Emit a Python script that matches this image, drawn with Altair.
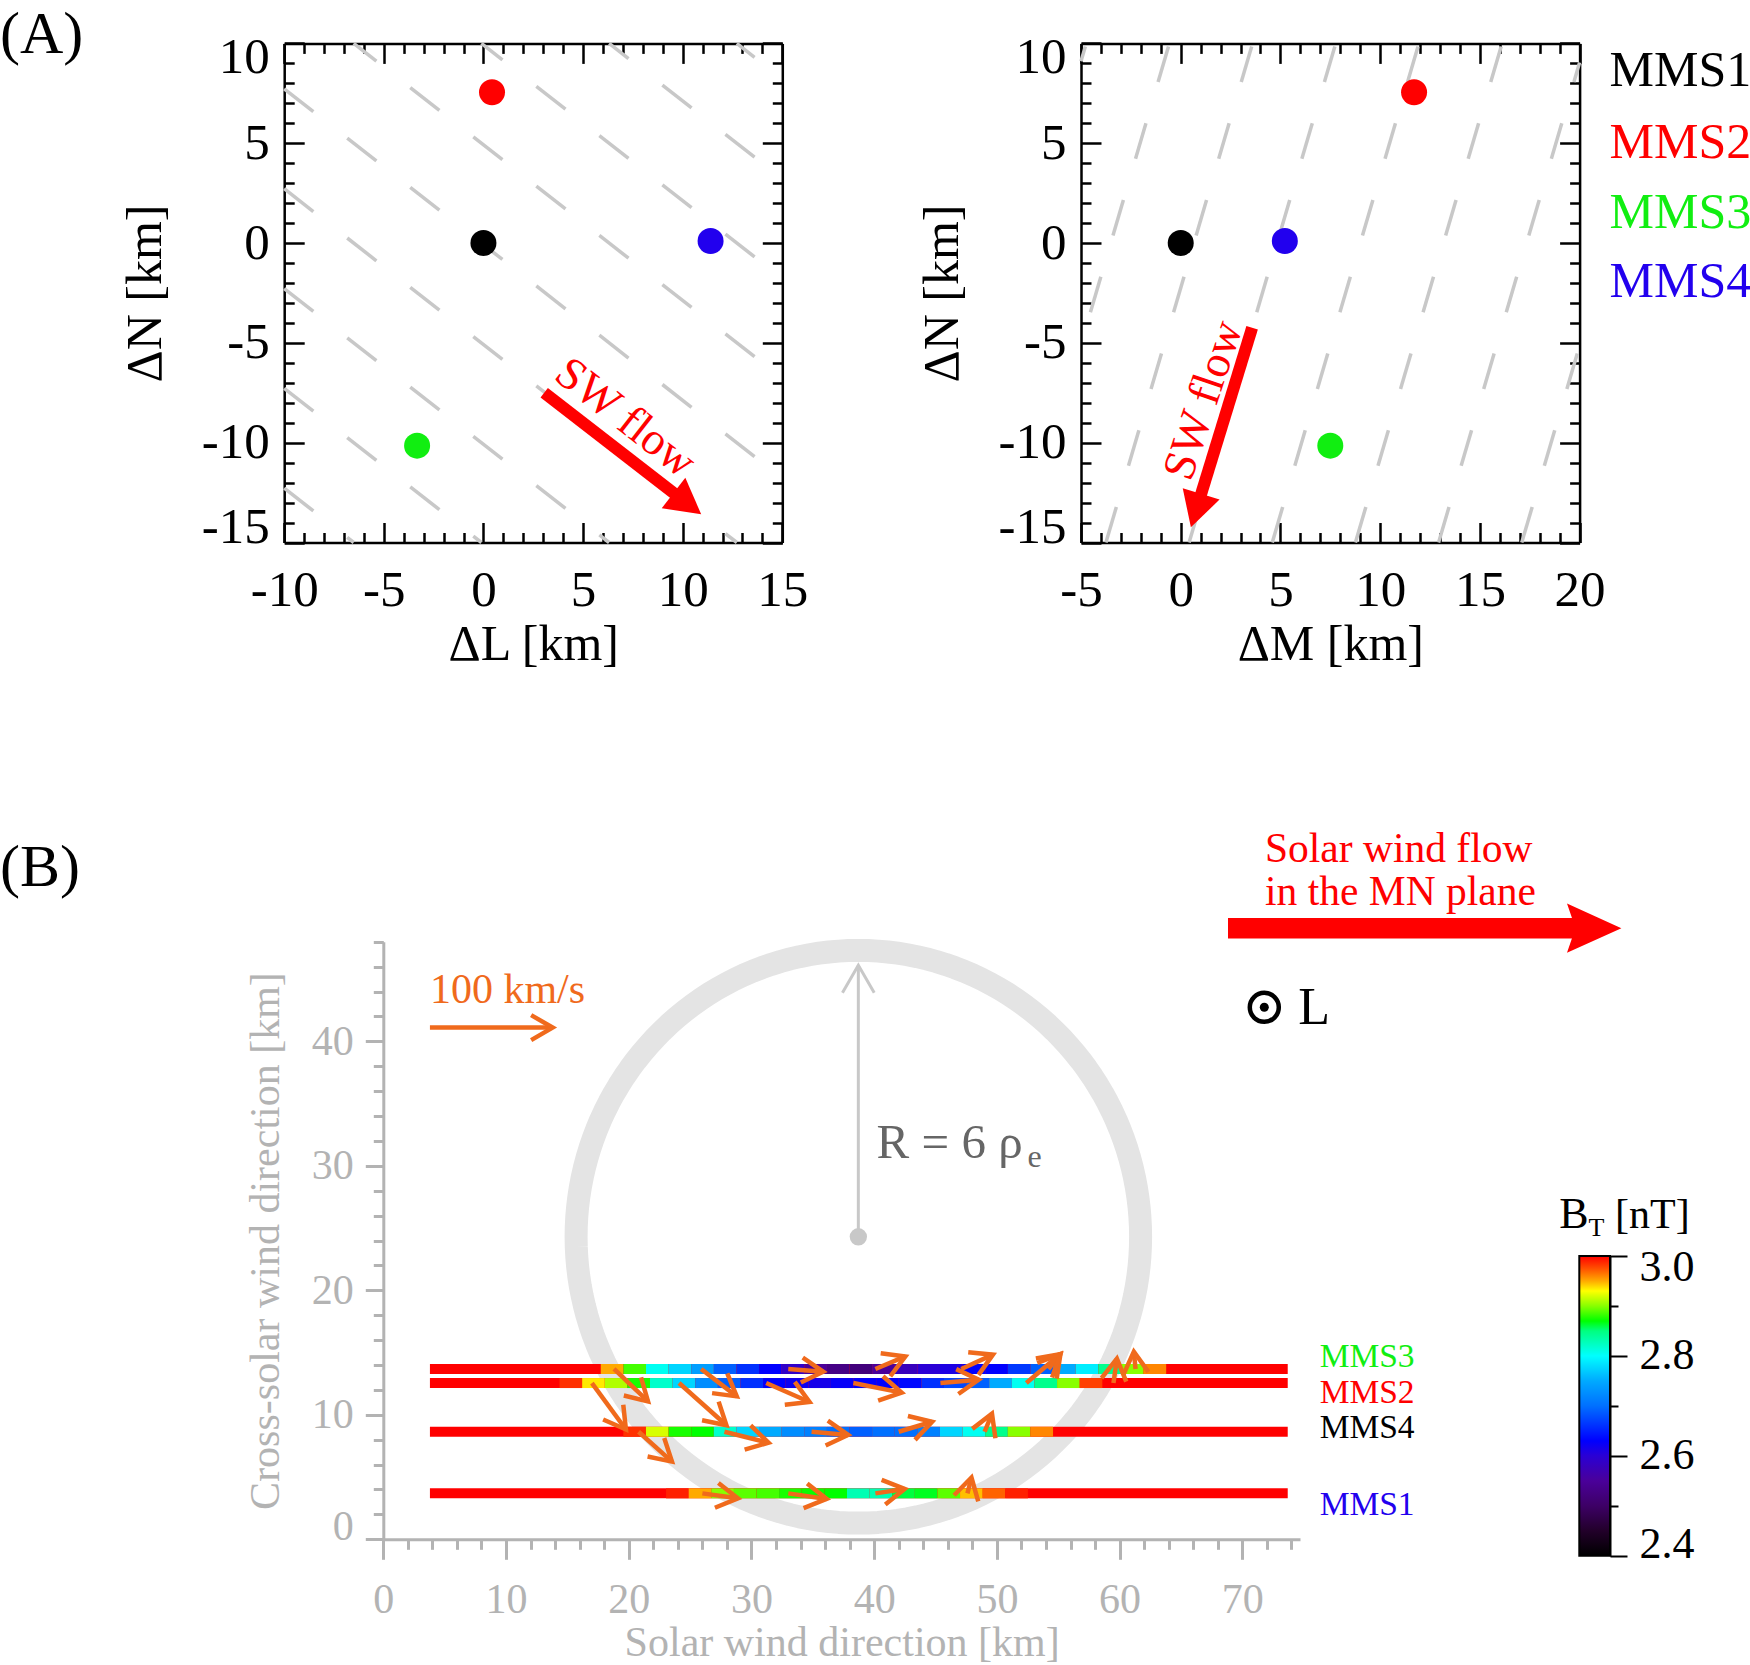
import math
import altair as alt
import numpy as np
import pandas as pd

W, H = 1750, 1665
FONT = "Liberation Serif"
GREY_AX = "#b3b3b3"
ORANGE = "#f06a1c"
DASH_GREY = "#c8c8c8"
RING_GREY = "#e4e4e4"

# ---------------- frames: (data domain, pixel range) ----------------
AL_X = ((-10, 15), (284.2, 782.3))
AR_X = ((-5, 20), (1081.0, 1579.6))
A_Y = ((-15, 10), (542.5, 43.4))
B_X = ((0, 74.7), (383.3, 1300.0))
B_Y = ((0, 48), (1539.3, 941.7))
CB_X = ((0, 1), (1579.3, 1610.0))
CB_Y = ((2.4, 3.0), (1555.7, 1256.0))

# ---------------- Panel (A) data ----------------
SC_NAMES = ["MMS1", "MMS2", "MMS3", "MMS4"]
SC_COLORS = ["#000000", "#ff0000", "#11ee11", "#2200ee"]
DL = [0.0, 0.43, -3.33, 11.4]
DM = [0.0, 11.7, 7.5, 5.22]
DN = [0.0, 7.55, -10.15, 0.1]
LEGEND_M = 21.5
LEGEND_N = [8.6, 5.0, 1.5, -1.95]

LN_SLOPE = -0.78                      # dN/dL of flow-parallel guide lines
LN_N0 = [-12.28, -7.28, -2.28, 2.72, 7.72, 12.72, 17.72, 22.72, 27.72]   # N at L = -10
MN_SLOPE = 3.4                        # dN/dM of flow-parallel guide lines
MN_M0 = [-12.09, -7.92, -3.75, 0.42, 4.59, 8.76, 12.93, 17.10]           # M at N = -15
DASH_PX, PERIOD_PX = 37, 80

SW_LN_TAIL, SW_LN_TIP = (3.05, -7.5), (10.93, -13.59)
SW_MN_TAIL, SW_MN_TIP = (3.58, -4.24), (0.51, -14.24)
SW_LN_TEXT = (7.13, -8.75, 38)
SW_MN_TEXT = (1.14, -7.88, 288.5)

# ---------------- Panel (B) data ----------------
BAR_SC = ["MMS3", "MMS2", "MMS4", "MMS1"]
BAR_Y = [13.68, 12.55, 8.64, 3.69]
BAR_X0, BAR_X1 = 3.8, 73.7
CELL_W = 1.843
CELL_START = [17.72, 14.36, 19.56, 23.04]
BT_MMS3 = [2.95, 2.885, 2.805, 2.775, 2.74, 2.69, 2.66, 2.63, 2.59, 2.55, 2.53, 2.52, 2.55,
           2.58, 2.60, 2.61, 2.63, 2.63, 2.665, 2.69, 2.75, 2.79, 2.845, 2.90, 2.96]
BT_MMS2 = [2.985, 2.935, 2.91, 2.875, 2.82, 2.775, 2.725, 2.69, 2.66, 2.63, 2.62, 2.615,
           2.625, 2.63, 2.63, 2.635, 2.66, 2.675, 2.69, 2.75, 2.805, 2.845, 2.90, 2.98]
BT_MMS4 = [2.985, 2.92, 2.875, 2.87, 2.82, 2.775, 2.75, 2.725, 2.715, 2.70, 2.69, 2.70,
           2.70, 2.715, 2.775, 2.805, 2.845, 2.90, 2.96]
BT_MMS1 = [2.99, 2.95, 2.90, 2.89, 2.885, 2.875, 2.872, 2.87, 2.83, 2.83, 2.86, 2.865,
           2.89, 2.945, 2.97, 2.99]
BT_CELLS = [BT_MMS3, BT_MMS2, BT_MMS4, BT_MMS1]
BAR_LABEL_Y = [14.63, 11.75, 8.9, 2.77]
BAR_LABEL_X = 76.3
BAR_LABEL_COLORS = ["#11ee11", "#ff0000", "#000000", "#2200ee"]

ARROW_SC = ["MMS3"] * 7 + ["MMS2"] * 7 + ["MMS4"] * 5 + ["MMS1"] * 4
ARROW_X = [18.8, 25.9, 33.0, 40.1, 47.1, 54.2, 61.3,
           17.0, 24.1, 31.2, 38.3, 45.4, 52.4, 59.5,
           20.8, 27.8, 34.9, 42.0, 49.0,
           26.0, 33.0, 40.1, 47.6]
ARROW_VX = [27.7, 29.0, 28.5, 24.4, 25.8, 9.8, -1.4,
            27.7, 38.6, 35.3, 39.4, 31.2, 27.7, 2.8,
            27.2, 35.9, 29.8, 27.2, 6.0,
            29.0, 31.3, 23.9, 3.3]
ARROW_VY = [-26.0, -22.0, -2.2, 10.1, 11.5, 12.0, 13.9,
            -37.3, -33.9, -15.2, -7.7, 2.7, 23.3, 19.6,
            -24.0, -8.8, -2.6, 8.0, 14.5,
            -4.0, -4.5, 3.5, 12.7]
KM_PER_KMS = 0.1           # 100 km/s drawn as 10 km
REF_SPEED = 100
REF_X, REF_Y, REF_TEXT_Y = 3.8, 41.1, 43.1

RING_CX, RING_CY, RING_R = 38.71, 24.3, 23.0
R_ARROW_TOP = 46.1

# colour table for B_T
CMAP_BT = [2.40, 2.45, 2.50, 2.55, 2.60, 2.63, 2.70, 2.75, 2.80, 2.85, 2.87, 2.90, 2.93, 2.95, 2.975, 3.00]
CMAP_COLORS = ["#000000", "#22002a", "#3d0066", "#4a009a", "#2a00d5", "#0000ff", "#0070ff", "#00aaff",
               "#00ffff", "#00ff80", "#00ff00", "#88ff00", "#ffff00", "#ffaa00", "#ff5000", "#ff0000"]
CB_MAJ = [2.4, 2.6, 2.8, 3.0]
CB_MIN = [2.5, 2.7, 2.9]

HEAD_FILLED = "M0,0 L-1,-0.55 L-1,0.55 Z"
HEAD_OPEN = "M-1,-0.58 L0,0 L-1,0.58"
HEAD_BIG = "M0,0 L-1,-0.452 L-0.91,-0.19 L-0.91,0.19 L-1,0.452 Z"


def scale(s):
    return alt.Scale(domain=list(s[0]), range=list(s[1]), zero=False, nice=False)


def ppu(s):
    return (s[1][1] - s[1][0]) / (s[0][1] - s[0][0])


def one_row(**kw):
    return pd.DataFrame({k: [v] for k, v in kw.items()})


def XQ(field, s):
    return alt.X(field, type="quantitative", scale=scale(s), axis=None)


def YQ(field, s):
    return alt.Y(field, type="quantitative", scale=scale(s), axis=None)


def text_px(t, x, y, size, color="black", align="left", baseline="alphabetic"):
    return alt.Chart(one_row(t=t)).mark_text(
        font=FONT, fontSize=size, color=color, align=align, baseline=baseline
    ).encode(x=alt.value(x), y=alt.value(y), text="t:N")


def text_data(t, x, y, xs, ys, size, color="black", align="left", baseline="alphabetic", angle=None):
    m = dict(font=FONT, fontSize=size, color=color, align=align, baseline=baseline)
    if angle is not None:
        m["angle"] = angle
    return alt.Chart(one_row(t=t, x=x, y=y)).mark_text(**m).encode(
        x=XQ("x", xs), y=YQ("y", ys), text="t:N")


def axis_layer(xs, ys, xaxis, yaxis):
    df = pd.DataFrame({"x": list(xs[0]), "y": list(ys[0])})
    return alt.Chart(df).mark_point(opacity=0).encode(
        x=alt.X("x:Q", scale=scale(xs), axis=xaxis),
        y=alt.Y("y:Q", scale=scale(ys), axis=yaxis),
    )


layers = []

# ---------------- Panel A: dashed guide lines ----------------
def ln_dashes():
    px, py = ppu(AL_X), ppu(A_Y)
    unit = math.hypot(px, LN_SLOPE * py)
    per, dl = PERIOD_PX / unit, DASH_PX / unit
    rows = []
    for n0 in LN_N0:
        lo = max(-10.0, -10 + (n0 - 10) / (-LN_SLOPE))
        hi = min(15.0, -10 + (n0 + 15) / (-LN_SLOPE))
        k = 0
        while -10 + k * per < hi:
            s = -10 + k * per
            a, b = max(s, lo), min(s + dl, hi)
            if b > a:
                rows.append(dict(x=a, y=n0 + LN_SLOPE * (a + 10), x2=b, y2=n0 + LN_SLOPE * (b + 10)))
            k += 1
    return pd.DataFrame(rows)


def mn_dashes():
    px, py = ppu(AR_X), ppu(A_Y)
    unit = math.hypot(px / MN_SLOPE, py)
    per, dl = PERIOD_PX / unit, DASH_PX / unit
    rows = []
    for m0 in MN_M0:
        lo = max(-15.0, -15 + MN_SLOPE * (-5 - m0))
        hi = min(10.0, -15 + MN_SLOPE * (20 - m0))
        k = 0
        while -15 + k * per < hi:
            s = -15 + k * per
            a, b = max(s, lo), min(s + dl, hi)
            if b > a:
                rows.append(dict(y=a, x=m0 + (a + 15) / MN_SLOPE, y2=b, x2=m0 + (b + 15) / MN_SLOPE))
            k += 1
    return pd.DataFrame(rows)


for df, xs in [(ln_dashes(), AL_X), (mn_dashes(), AR_X)]:
    layers.append(alt.Chart(df).mark_rule(color=DASH_GREY, strokeWidth=3.5).encode(
        x=XQ("x", xs), y=YQ("y", A_Y), x2="x2:Q", y2="y2:Q"))

# ---------------- Panel A: axes / frames ----------------
MINUS = "datum.value < 0 ? '-' + abs(datum.value) : '' + datum.value"
A_COMMON = dict(grid=False, domainColor="black", domainWidth=2.5, tickColor="black", tickWidth=2.5)
A_LAB = dict(labelFont=FONT, labelFontSize=51, labelColor="black", titleFont=FONT,
             titleFontSize=50, titleFontWeight="normal", titleColor="black", labelOverlap=False)


def panelA_axes(xs, xtitle, xmaj, xmin):
    x0, x1 = xs[1]
    ybot, ytop = A_Y[1]
    ymaj = [-15, -10, -5, 0, 5, 10]
    ymin = [v for v in range(-15, 11) if v % 5]
    out = [axis_layer(
        xs, A_Y,
        alt.Axis(orient="bottom", offset=ybot - H, values=xmaj, ticks=False, domain=True,
                 labelPadding=23, labelFlush=False, labelExpr=MINUS, title=xtitle,
                 titlePadding=4, **A_COMMON, **A_LAB),
        alt.Axis(orient="left", offset=-x0, values=ymaj, ticks=False, domain=True,
                 labelPadding=15, labelFlush=True, labelFlushOffset=11, labelExpr=MINUS,
                 title="ΔN [km]", titlePadding=31, **A_COMMON, **A_LAB))]
    for vx, vy, size in [(xmaj, ymaj, 20), (xmin, ymin, 10)]:
        out.append(axis_layer(
            xs, A_Y,
            alt.Axis(orient="top", offset=-ybot, values=vx, tickSize=size, labels=False,
                     domain=False, title=None, **A_COMMON),
            alt.Axis(orient="right", offset=x0 - W, values=vy, tickSize=size, labels=False,
                     domain=False, title=None, **A_COMMON)))
        out.append(axis_layer(
            xs, A_Y,
            alt.Axis(orient="bottom", offset=ytop - H, values=vx, tickSize=size, labels=False,
                     domain=(size == 20), title=None, **A_COMMON),
            alt.Axis(orient="left", offset=-x1, values=vy, tickSize=size, labels=False,
                     domain=(size == 20), title=None, **A_COMMON)))
    return out


layers += panelA_axes(AL_X, "ΔL [km]", [-10, -5, 0, 5, 10, 15],
                      [v for v in range(-10, 16) if v % 5])
layers += panelA_axes(AR_X, "ΔM [km]", [-5, 0, 5, 10, 15, 20],
                      [v for v in range(-5, 21) if v % 5])

# ---------------- Panel A: spacecraft ----------------
pts = pd.DataFrame({"sc": SC_NAMES, "L": DL, "M": DM, "N": DN, "col": SC_COLORS})
for fx, xs in [("L", AL_X), ("M", AR_X)]:
    layers.append(alt.Chart(pts).mark_point(shape="circle", filled=True, size=676, opacity=1).encode(
        x=XQ(fx, xs), y=YQ("N", A_Y), color=alt.Color("col:N", scale=None)))


def filled_arrow(tail, tip, xs, ys, head_len=35, width=12, color="red"):
    px, py = ppu(xs), ppu(ys)
    sdx, sdy = (tip[0] - tail[0]) * px, (tip[1] - tail[1]) * py
    length = math.hypot(sdx, sdy)
    ang = math.degrees(math.atan2(sdy, sdx)) % 360
    f = (length - head_len + 5) / length
    df = one_row(x=tail[0], y=tail[1], x2=tail[0] + (tip[0] - tail[0]) * f,
                 y2=tail[1] + (tip[1] - tail[1]) * f, tx=tip[0], ty=tip[1], ang=ang)
    shaft = alt.Chart(df).mark_rule(color=color, strokeWidth=width).encode(
        x=XQ("x", xs), y=YQ("y", ys), x2="x2:Q", y2="y2:Q")
    head = alt.Chart(df).mark_point(shape=HEAD_FILLED, size=(2 * head_len) ** 2, filled=True,
                                    color=color, opacity=1).encode(
        x=XQ("tx", xs), y=YQ("ty", ys), angle=alt.Angle("ang:Q", scale=None))
    return [shaft, head]


layers += filled_arrow(SW_LN_TAIL, SW_LN_TIP, AL_X, A_Y)
layers += filled_arrow(SW_MN_TAIL, SW_MN_TIP, AR_X, A_Y)
layers.append(text_data("SW flow", SW_LN_TEXT[0], SW_LN_TEXT[1], AL_X, A_Y, 46, "red",
                        "center", "middle", SW_LN_TEXT[2]))
layers.append(text_data("SW flow", SW_MN_TEXT[0], SW_MN_TEXT[1], AR_X, A_Y, 46, "red",
                        "center", "middle", SW_MN_TEXT[2]))

leg = pd.DataFrame({"t": SC_NAMES, "x": [LEGEND_M] * 4, "y": LEGEND_N, "col": SC_COLORS})
layers.append(alt.Chart(leg).mark_text(font=FONT, fontSize=50, align="left", baseline="middle").encode(
    x=XQ("x", AR_X), y=YQ("y", A_Y), text="t:N", color=alt.Color("col:N", scale=None)))

layers.append(text_px("(A)", 0, 53, 60))
layers.append(text_px("(B)", 0, 886, 60))

# ---------------- Panel B ----------------
theta = np.deg2rad(np.arange(0, 367, 2))
ring = pd.DataFrame({"i": np.arange(len(theta)),
                     "x": RING_CX + RING_R * np.cos(theta),
                     "y": RING_CY + RING_R * np.sin(theta)})
layers.append(alt.Chart(ring).mark_line(color=RING_GREY, strokeWidth=23, strokeJoin="round").encode(
    x=XQ("x", B_X), y=YQ("y", B_Y), order=alt.Order("i:Q")))

rad = one_row(x=RING_CX, y=RING_CY, y2=R_ARROW_TOP, ang=270)
layers.append(alt.Chart(rad).mark_rule(color=DASH_GREY, strokeWidth=3).encode(
    x=XQ("x", B_X), y=YQ("y", B_Y), y2="y2:Q"))
layers.append(alt.Chart(rad).mark_point(shape=HEAD_OPEN, size=3000, filled=False, color=DASH_GREY,
                                        strokeWidth=3, opacity=1).encode(
    x=XQ("x", B_X), y=YQ("y2", B_Y), angle=alt.Angle("ang:Q", scale=None)))
layers.append(alt.Chart(rad).mark_point(shape="circle", filled=True, size=300, color=DASH_GREY,
                                        opacity=1).encode(x=XQ("x", B_X), y=YQ("y", B_Y)))

B_COMMON = dict(grid=False, domainColor=GREY_AX, domainWidth=3, tickColor=GREY_AX, tickWidth=3)
B_LAB = dict(labelFont=FONT, labelFontSize=42, labelColor=GREY_AX, titleFont=FONT, titleFontSize=42,
             titleFontWeight="normal", titleColor=GREY_AX, labelOverlap=False)
layers.append(axis_layer(
    B_X, B_Y,
    alt.Axis(orient="bottom", offset=B_Y[1][0] - H, values=list(range(0, 71, 10)), tickSize=20,
             labelPadding=20, labelFlush=False, title="Solar wind direction [km]", titlePadding=2,
             **B_COMMON, **B_LAB),
    alt.Axis(orient="left", offset=-B_X[1][0], values=list(range(0, 41, 10)), tickSize=18,
             labelPadding=12, labelFlush=True, labelFlushOffset=9,
             title="Cross-solar wind direction [km]", titlePadding=24, **B_COMMON, **B_LAB)))
layers.append(axis_layer(
    B_X, B_Y,
    alt.Axis(orient="bottom", offset=B_Y[1][0] - H, values=[v for v in range(2, 75, 2) if v % 10],
             tickSize=10, labels=False, domain=False, title=None, **B_COMMON),
    alt.Axis(orient="left", offset=-B_X[1][0], values=[v for v in range(2, 49, 2) if v % 10],
             tickSize=10, labels=False, domain=False, title=None, **B_COMMON)))

bars = pd.DataFrame({"sc": BAR_SC, "y": BAR_Y, "x": [BAR_X0] * 4, "x2": [BAR_X1] * 4})
layers.append(alt.Chart(bars).mark_rule(color="#ff0000", strokeWidth=10).encode(
    x=XQ("x", B_X), x2="x2:Q", y=YQ("y", B_Y)))

cell_rows = []
for sc, y, x0, bts in zip(BAR_SC, BAR_Y, CELL_START, BT_CELLS):
    for i, bt in enumerate(bts):
        cell_rows.append(dict(sc=sc, y=y, x=x0 + i * CELL_W, x2=x0 + (i + 1) * CELL_W, bt=bt))
cells = pd.DataFrame(cell_rows)
layers.append(alt.Chart(cells).mark_rule(strokeWidth=10).encode(
    x=XQ("x", B_X), x2="x2:Q", y=YQ("y", B_Y),
    color=alt.Color("bt:Q", scale=alt.Scale(domain=CMAP_BT, range=CMAP_COLORS, interpolate="rgb",
                                            clamp=True), legend=None)))

pxB, pyB = ppu(B_X), ppu(B_Y)
arr_rows = []
for sc, x, vx, vy in zip(ARROW_SC, ARROW_X, ARROW_VX, ARROW_VY):
    y = BAR_Y[BAR_SC.index(sc)]
    arr_rows.append(dict(x=x, y=y, x2=x + vx * KM_PER_KMS, y2=y + vy * KM_PER_KMS,
                         ang=math.degrees(math.atan2(vy * pyB, vx * pxB)) % 360))
arr_rows.append(dict(x=REF_X, y=REF_Y, x2=REF_X + REF_SPEED * KM_PER_KMS, y2=REF_Y, ang=0.0))
arrows = pd.DataFrame(arr_rows)
layers.append(alt.Chart(arrows).mark_rule(color=ORANGE, strokeWidth=4.5).encode(
    x=XQ("x", B_X), y=YQ("y", B_Y), x2="x2:Q", y2="y2:Q"))
layers.append(alt.Chart(arrows).mark_point(shape=HEAD_OPEN, size=1850, filled=False, color=ORANGE,
                                           strokeWidth=4.5, opacity=1).encode(
    x=XQ("x2", B_X), y=YQ("y2", B_Y), angle=alt.Angle("ang:Q", scale=None)))

layers.append(text_data("100 km/s", REF_X, REF_TEXT_Y, B_X, B_Y, 42, ORANGE))
layers.append(text_data("R = 6 ρ", 40.2, 30.6, B_X, B_Y, 49, "#666666"))
layers.append(text_data("e", 52.5, 29.9, B_X, B_Y, 32, "#666666"))

blab = pd.DataFrame({"t": BAR_SC, "x": [BAR_LABEL_X] * 4, "y": BAR_LABEL_Y, "col": BAR_LABEL_COLORS})
layers.append(alt.Chart(blab).mark_text(font=FONT, fontSize=33.5, align="left", baseline="middle").encode(
    x=XQ("x", B_X), y=YQ("y", B_Y), text="t:N", color=alt.Color("col:N", scale=None)))

# ---------------- top-right annotations ----------------
layers.append(text_px("Solar wind flow", 1265, 862, 41.5, "red"))
layers.append(text_px("in the MN plane", 1265, 905, 41.5, "red"))
layers.append(alt.Chart(one_row(a=0)).mark_rule(color="red", strokeWidth=20.5).encode(
    x=alt.value(1228), x2=alt.value(1575), y=alt.value(928.2)))
layers.append(alt.Chart(one_row(a=0)).mark_point(shape=HEAD_BIG, size=11837, filled=True, color="red",
                                                 opacity=1).encode(x=alt.value(1621.4), y=alt.value(928.2)))
layers.append(alt.Chart(one_row(a=0)).mark_point(shape="circle", filled=False, size=841, color="black",
                                                 strokeWidth=4.5, opacity=1).encode(
    x=alt.value(1264.3), y=alt.value(1007.3)))
layers.append(alt.Chart(one_row(a=0)).mark_point(shape="circle", filled=True, size=81, color="black",
                                                 opacity=1).encode(x=alt.value(1264.3), y=alt.value(1007.3)))
layers.append(text_px("L", 1298.3, 1023.8, 52))

# ---------------- colour bar ----------------
stops = [alt.GradientStop(color=c, offset=(b - CMAP_BT[0]) / (CMAP_BT[-1] - CMAP_BT[0]))
         for b, c in zip(CMAP_BT, CMAP_COLORS)]
cb = one_row(x=0, x2=1, y=CMAP_BT[0], y2=CMAP_BT[-1])
layers.append(alt.Chart(cb).mark_rect(
    fill=alt.LinearGradient(gradient="linear", stops=stops, x1=0, x2=0, y1=1, y2=0),
    stroke="black", strokeWidth=2).encode(x=XQ("x", CB_X), x2="x2:Q", y=YQ("y", CB_Y), y2="y2:Q"))
CB_COMMON = dict(grid=False, domainColor="black", domainWidth=2, tickColor="black", tickWidth=2)
layers.append(axis_layer(CB_X, CB_Y, None, alt.Axis(
    orient="right", offset=CB_X[1][1] - W, values=CB_MAJ, tickSize=17, labelPadding=12,
    labelFlush=True, labelFlushOffset=11, format=".1f", labelFont=FONT, labelFontSize=44,
    labelColor="black", labelOverlap=False, title=None, **CB_COMMON)))
layers.append(axis_layer(CB_X, CB_Y, None, alt.Axis(
    orient="right", offset=CB_X[1][1] - W, values=CB_MIN, tickSize=8, labels=False, domain=False,
    title=None, **CB_COMMON)))
layers.append(text_px("B", 1559.3, 1228, 44))
layers.append(text_px("T", 1588.5, 1236, 26))
layers.append(text_px("[nT]", 1615, 1228, 42))

chart = alt.layer(*layers).resolve_scale(
    x="independent", y="independent", color="independent"
).properties(
    width=W, height=H, autosize=alt.AutoSizeParams(type="none"), padding=0, background="white"
).configure_view(stroke=None)

chart.save("out.html", embed_options={"renderer": "svg", "actions": False})
